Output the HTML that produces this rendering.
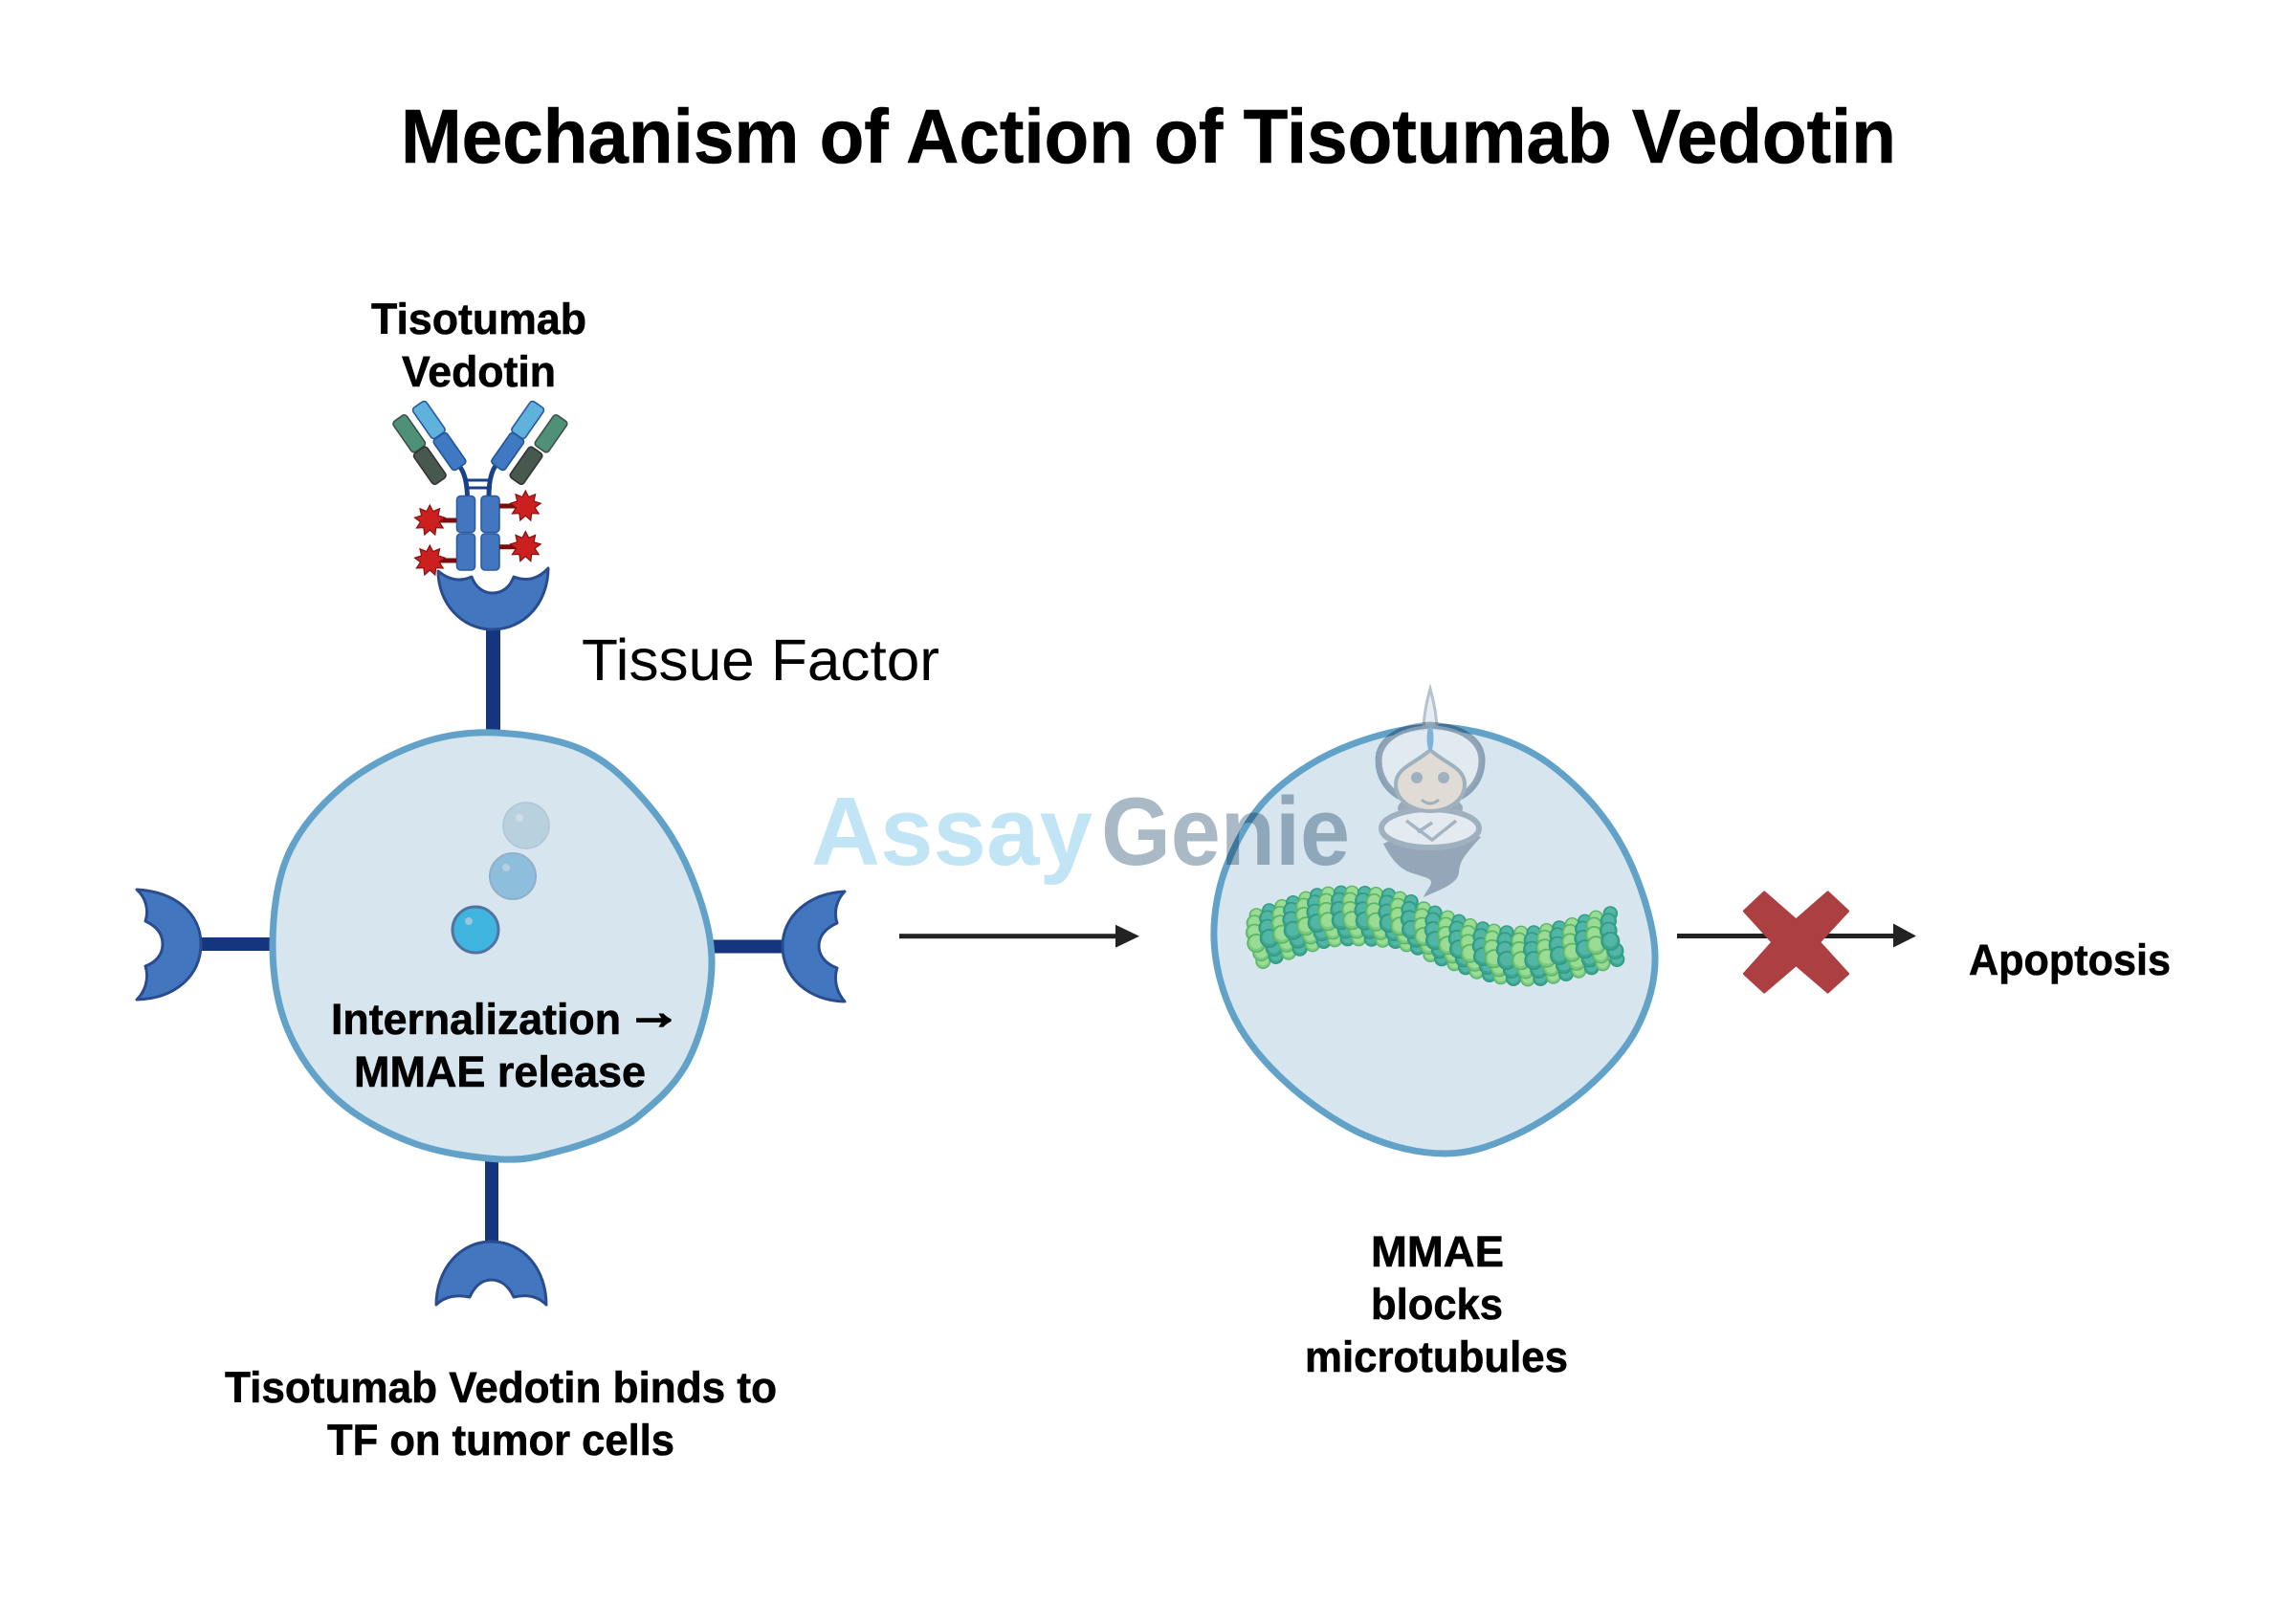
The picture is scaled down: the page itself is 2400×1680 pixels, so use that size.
<!DOCTYPE html>
<html>
<head>
<meta charset="utf-8">
<title>Mechanism of Action of Tisotumab Vedotin</title>
<style>
html,body{margin:0;padding:0;background:#fff}
svg{display:block}
text{font-family:"Liberation Sans",sans-serif;font-weight:700;fill:#000}
.b{stroke:#000;stroke-width:.6}
</style>
</head>
<body>
<svg xmlns="http://www.w3.org/2000/svg" width="2400" height="1680" viewBox="0 0 2400 1680">
<defs>
<g id="star"><polygon points="0,-16 3.4,-9.4 10.3,-12.3 8.7,-5 15.8,-2.8 9.8,1.7 13.9,8 6.4,7.7 5.5,15 0,10 -5.5,15 -6.4,7.7 -13.9,8 -9.8,1.7 -15.8,-2.8 -8.7,-5 -10.3,-12.3 -3.4,-9.4" fill="#cc1f1f" stroke="#8a1010" stroke-width="1.2"/></g>
<g id="gb"><circle r="8.4" fill="#7cc985" stroke="#58b563" stroke-width="1.4"/><circle cy="-1" r="6.3" fill="#9bdc94"/></g>
<g id="tb"><circle r="8.4" fill="#3fa58e" stroke="#2f9a84" stroke-width="1.4"/><circle cy="-1" r="6.3" fill="#52b6a6"/></g>
<g id="G">
<use href="#gb" transform="translate(0,-24) scale(.85)"/><use href="#gb" transform="translate(7,24) scale(.88)"/>
<use href="#gb" transform="translate(-2,-16) scale(.95)"/><use href="#gb" transform="translate(5,15) scale(1)"/>
<use href="#gb" transform="translate(-2,-6) scale(1.02)"/><use href="#gb" transform="translate(0,5) scale(1.1)"/>
</g>
<g id="T">
<use href="#tb" transform="translate(0,-24) scale(.85)"/><use href="#tb" transform="translate(7,24) scale(.88)"/>
<use href="#tb" transform="translate(-2,-16) scale(.95)"/><use href="#tb" transform="translate(5,15) scale(1)"/>
<use href="#tb" transform="translate(-2,-6) scale(1.02)"/><use href="#tb" transform="translate(0,5) scale(1.1)"/>
</g>
</defs>

<rect width="2400" height="1680" fill="#fff"/>

<!-- Title -->
<text class="b" x="419" y="170" font-size="80" textLength="1563" lengthAdjust="spacingAndGlyphs">Mechanism of Action of Tisotumab Vedotin</text>

<!-- Labels -->
<text class="b" x="388" y="349" font-size="45" textLength="225" lengthAdjust="spacingAndGlyphs">Tisotumab</text>
<text class="b" x="420" y="404" font-size="45" textLength="161" lengthAdjust="spacingAndGlyphs">Vedotin</text>
<text x="608" y="711" font-size="61" style="font-weight:400" textLength="374" lengthAdjust="spacingAndGlyphs">Tissue Factor</text>

<!-- Stems -->
<rect x="508" y="655" width="15" height="115" fill="#15367f"/>
<rect x="208" y="980" width="80" height="14" fill="#15367f"/>
<rect x="742" y="982.5" width="78" height="14" fill="#15367f"/>
<rect x="507" y="1208" width="14" height="92" fill="#15367f"/>

<!-- Cell 1 -->
<path d="M518,766 C546.7,767.2 583.2,772.3 609,784 C634.8,795.7 654.3,814.8 673,836 C691.7,857.2 709.2,883.7 721,912 C732.8,940.3 744,973.3 744,1006 C744,1040 733,1085 716,1115 C701,1140 684,1153 664,1170 C640,1187 606,1198 582,1204 C559.7,1210 548,1213 523,1212 C498,1210.5 460.5,1205.5 432,1195 C403.5,1184.5 373.8,1168.7 352,1149 C330.2,1129.3 312.2,1103.8 301,1077 C289.8,1050.2 285,1018.5 285,988 C285,957.5 289,921.5 301,894 C313,866.5 334.3,842.3 357,823 C379.7,803.7 410.2,787.5 437,778 C463.8,768.5 489.3,764.8 518,766Z" fill="#d7e5ee" stroke="#62a2c9" stroke-width="7"/>

<!-- Vesicles -->
<circle cx="550" cy="863" r="24" fill="#b9d0df" stroke="#b0c5d4" stroke-width="1.5"/>
<circle cx="543" cy="855" r="4" fill="#cfdde6"/>
<circle cx="536" cy="916" r="24" fill="#8dbedb" stroke="#8fb0cc" stroke-width="2"/>
<circle cx="529" cy="907" r="4" fill="#b6cfdf"/>
<circle cx="497" cy="972" r="24" fill="#3fb4df" stroke="#52739f" stroke-width="3"/>
<circle cx="490" cy="963" r="4" fill="#9cc6d9"/>

<!-- Receptors -->
<g fill="#4277bf" stroke="#2a4c8e" stroke-width="3" stroke-linejoin="round">
<path d="M458,597 C470,607 482,608 493,603 C497,614 505,620 515,620 C525,620 533,614 537,603 C550,608 562,606 573,594 C573,630 548,658 515,658 C482,658 458,630 458,597Z"/>
<path d="M143,930 C183,932 210,955 210,987 C210,1020 183,1044 143,1045 C152,1036 156,1023 152,1010 C163,1006 170,998 170,987 C170,976 163,968 152,963 C156,951 152,938 143,930Z"/>
<path d="M883,932 C845,934 818,958 818,989 C818,1022 845,1046 883,1047 C875,1038 871,1025 875,1012 C864,1008 856,1000 856,989 C856,978 864,970 875,965 C871,953 875,940 883,932Z"/>
<path d="M456,1364 C456,1328 480,1298 513.5,1298 C548,1298 571,1328 571,1364 C562,1355 550,1353 537,1356 C532,1345 524,1338 513.5,1338 C503,1338 496,1345 491,1356 C478,1353 465,1355 456,1364Z"/>
</g>

<!-- Antibody -->
<g fill="none" stroke="#1a4088" stroke-width="5">
<path d="M480,487 Q488,497 488.5,519"/>
<path d="M518,487 Q511,497 511,519"/>
<path d="M488,502 H511 M488,510 H511" stroke-width="3"/>
</g>
<g stroke-width="1.6">
<rect x="-19.5" y="-8.5" width="39" height="17" rx="3.5" transform="translate(551.7,439) rotate(-55)" fill="#5fb2dc" stroke="#2c5aa0"/>
<rect x="-19.5" y="-8.5" width="39" height="17" rx="3.5" transform="translate(448.3,439) rotate(55)" fill="#5fb2dc" stroke="#2c5aa0"/>
<rect x="-19.5" y="-8.5" width="39" height="17" rx="3.5" transform="translate(576,453.3) rotate(-55)" fill="#4e9078" stroke="#3e4f48"/>
<rect x="-19.5" y="-8.5" width="39" height="17" rx="3.5" transform="translate(427.7,453.3) rotate(55)" fill="#4e9078" stroke="#3e4f48"/>
<rect x="-19.5" y="-8.5" width="39" height="17" rx="3.5" transform="translate(530.7,472) rotate(-55)" fill="#3f79c1" stroke="#23559b"/>
<rect x="-19.5" y="-8.5" width="39" height="17" rx="3.5" transform="translate(470,472) rotate(55)" fill="#3f79c1" stroke="#23559b"/>
<rect x="-19.5" y="-8.5" width="39" height="17" rx="3.5" transform="translate(550,486.7) rotate(-55)" fill="#47594f" stroke="#333"/>
<rect x="-19.5" y="-8.5" width="39" height="17" rx="3.5" transform="translate(449.3,486.7) rotate(55)" fill="#47594f" stroke="#333"/>
<rect x="477.5" y="518.5" width="19" height="38" rx="4" fill="#4277bf" stroke="#2c5a9e"/>
<rect x="477.5" y="558" width="19" height="38" rx="4" fill="#4277bf" stroke="#2c5a9e"/>
<rect x="503" y="518.5" width="19" height="38" rx="4" fill="#4277bf" stroke="#2c5a9e"/>
<rect x="503" y="558" width="19" height="38" rx="4" fill="#4277bf" stroke="#2c5a9e"/>
</g>
<g stroke="#7a0c0c" stroke-width="5">
<path d="M458,544 H477 M458,586 H477 M522,529 H540 M522,571.7 H540"/>
</g>
<use href="#star" x="449.3" y="544"/>
<use href="#star" x="449.3" y="586"/>
<use href="#star" x="549.3" y="529"/>
<use href="#star" x="549.3" y="571.7"/>

<!-- Cell labels -->
<text class="b" x="346" y="1081" font-size="45" textLength="303" lengthAdjust="spacingAndGlyphs">Internalization</text>
<text x="655" y="1075" font-size="50" textLength="57" lengthAdjust="spacingAndGlyphs" style="stroke:#000;stroke-width:2.5">→</text>
<text class="b" x="370" y="1136" font-size="45" textLength="305" lengthAdjust="spacingAndGlyphs">MMAE release</text>
<text class="b" x="235" y="1466" font-size="45" textLength="577" lengthAdjust="spacingAndGlyphs">Tisotumab Vedotin binds to</text>
<text class="b" x="342" y="1521" font-size="45" textLength="363" lengthAdjust="spacingAndGlyphs">TF on tumor cells</text>

<!-- Arrow 1 -->
<rect x="940" y="976.2" width="228" height="5" fill="#222"/>
<polygon points="1166,966.7 1191,978.7 1166,990.7" fill="#222"/>

<!-- Cell 2 -->
<path d="M1497,760 C1528.2,759.5 1561.2,767.8 1588,780 C1614.8,792.2 1638.3,812 1658,833 C1677.7,854 1694,878.5 1706,906 C1718,933.5 1729.2,969.8 1730,998 C1730.8,1026.2 1723,1051.7 1711,1075 C1699,1098.3 1679.3,1119.3 1658,1138 C1636.7,1156.7 1607.7,1175.7 1583,1187 C1558.3,1198.3 1536,1206 1510,1206 C1484,1206 1454.2,1199 1427,1187 C1399.8,1175 1369.7,1154.3 1347,1134 C1324.3,1113.7 1304,1090.3 1291,1065 C1278,1039.7 1269.9,1009.7 1269,982 C1268.1,954.3 1274,925 1283,903 C1292,880 1306.7,852.3 1326,833 C1345.3,813.7 1372.5,795.2 1401,783 C1429.5,770.8 1465.8,760.5 1497,760Z" fill="#d7e5ee" stroke="#62a2c9" stroke-width="7"/>

<!-- Watermark -->
<text x="848" y="904" font-size="101" style="fill:#c2e5f6;mix-blend-mode:multiply" textLength="294" lengthAdjust="spacingAndGlyphs">Assay</text>
<text x="1151" y="904" font-size="101" style="fill:#a9bac6;mix-blend-mode:multiply" textLength="260" lengthAdjust="spacingAndGlyphs">Genie</text>

<!-- Genie -->
<path d="M1446,882 C1455,900 1465,910 1477,913 C1488,917 1497,918 1496,923 C1495,928 1490,932 1488,938 C1500,932 1524,925 1525,912 C1526,900 1530,895 1548,875 L1495,860Z" fill="#94a6b8"/>
<ellipse cx="1495" cy="845" rx="34" ry="14" fill="#9aaabb"/>
<ellipse cx="1495" cy="866" rx="51" ry="20" fill="#e3ebf1" stroke="#9fb0bf" stroke-width="6"/>
<path d="M1470,858 L1497,878 L1522,858 M1482,870 L1497,860" fill="none" stroke="#a4b4c2" stroke-width="3.5"/>
<path d="M1495,720 C1491,735 1489,745 1488,760 L1502,760 C1501,745 1499,735 1495,720Z" fill="#e6eef3" stroke="#b4c3cf" stroke-width="3"/>
<path d="M1495,758 C1460,760 1441,775 1441,795 C1441,812 1450,825 1462,832 L1528,832 C1540,825 1549,812 1549,795 C1549,775 1530,760 1495,758Z" fill="#e3ebf1" fill-opacity=".8"/>
<path d="M1495,758 C1460,760 1441,775 1441,795 C1441,812 1450,825 1462,832 L1528,832 C1540,825 1549,812 1549,795 C1549,775 1530,760 1495,758Z" fill="none" stroke="#a4b4c2" stroke-width="7" style="mix-blend-mode:multiply"/>
<path d="M1459,820 C1459,802 1480,798 1495,784 C1510,798 1531,802 1531,820 C1531,836 1515,848 1495,848 C1475,848 1459,836 1459,820Z" fill="#e0dcd5" stroke="#9fb0bf" stroke-width="4"/>
<ellipse cx="1495" cy="772" rx="3.5" ry="13" fill="#7fb2d8"/>
<circle cx="1481" cy="813" r="6" fill="#9fb0bf"/>
<circle cx="1509" cy="813" r="6" fill="#9fb0bf"/>
<path d="M1486,836 Q1495,844 1504,836" fill="none" stroke="#9fb0bf" stroke-width="3"/>

<!-- Microtubule -->
<g>
<use href="#G" x="1313.3" y="981"/><use href="#T" x="1326.7" y="976"/>
<use href="#G" x="1340" y="971.7"/><use href="#T" x="1351.7" y="967.7"/>
<use href="#G" x="1365" y="963.3"/><use href="#T" x="1376.7" y="960"/>
<use href="#G" x="1388.3" y="958.3"/><use href="#T" x="1401.7" y="957.3"/>
<use href="#G" x="1413.3" y="957.3"/><use href="#T" x="1426.7" y="957.7"/>
<use href="#G" x="1438.3" y="958.7"/><use href="#T" x="1451.7" y="960"/>
<use href="#G" x="1463.3" y="963.3"/><use href="#T" x="1475" y="966.7"/>
<use href="#G" x="1488.3" y="974"/><use href="#T" x="1500" y="978.3"/>
<use href="#G" x="1513.3" y="983.3"/><use href="#T" x="1525" y="987.3"/>
<use href="#G" x="1536.7" y="991.7"/><use href="#T" x="1550" y="995"/>
<use href="#G" x="1561.7" y="997.3"/><use href="#T" x="1575" y="999"/>
<use href="#G" x="1590" y="999.3"/><use href="#T" x="1603.3" y="999"/>
<use href="#G" x="1616.7" y="996.7"/><use href="#T" x="1630" y="994"/>
<use href="#G" x="1643.3" y="990.7"/><use href="#T" x="1656.7" y="987.3"/>
<use href="#G" x="1668.3" y="983.3"/><use href="#T" x="1683.3" y="979"/>
</g>

<!-- Arrow 2 with X -->
<rect x="1753" y="976" width="228" height="5" fill="#222"/>
<polygon points="1979,965.5 2003,978.5 1979,990.5" fill="#222"/>
<polygon points="1844.2,933 1823.5,952.5 1853,985 1823.5,1018 1844.2,1037 1877.4,1008.5 1910.6,1037 1931.5,1018 1901.5,985 1931.5,952.5 1910.6,933 1877.4,962" fill="#ab3f42" stroke="#ab3f42" stroke-width="3" stroke-linejoin="round"/>

<!-- Right labels -->
<text class="b" x="2058" y="1019" font-size="45" textLength="211" lengthAdjust="spacingAndGlyphs">Apoptosis</text>
<text class="b" x="1433" y="1324" font-size="45" textLength="139" lengthAdjust="spacingAndGlyphs">MMAE</text>
<text class="b" x="1433" y="1379" font-size="45" textLength="138" lengthAdjust="spacingAndGlyphs">blocks</text>
<text class="b" x="1364" y="1434" font-size="45" textLength="275" lengthAdjust="spacingAndGlyphs">microtubules</text>
</svg>
</body>
</html>
